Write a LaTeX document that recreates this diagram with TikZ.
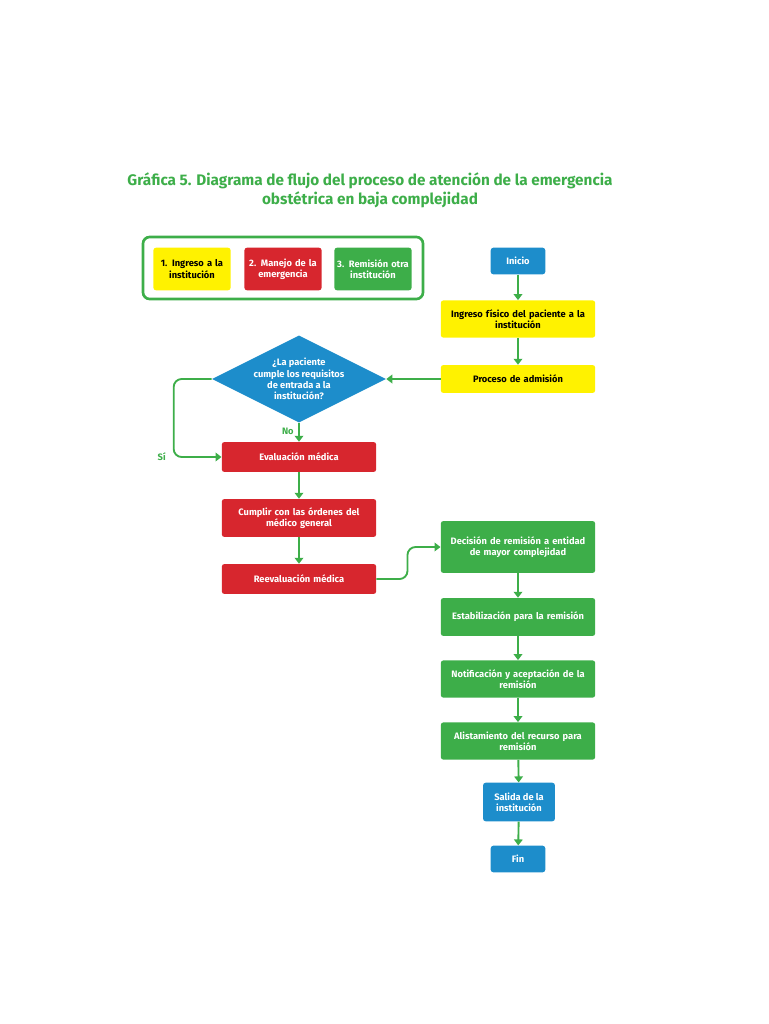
\documentclass[tikz,border=0pt]{standalone}
\usepackage{fontspec}
\setmainfont{Fira Sans}
\usetikzlibrary{positioning,shapes.geometric,arrows.meta}
\definecolor{vrd}{HTML}{3DAE49}
\definecolor{rj}{HTML}{D7262E}
\definecolor{am}{HTML}{FFF200}
\definecolor{az}{HTML}{1D8DCB}
\tikzset{
  box/.style={rounded corners=2pt,minimum height=#1,align=center,font=\fontsize{7}{8.5}\selectfont\bfseries,inner sep=2pt},
  ama/.style={box=21pt,fill=am,text=black,text width=112pt},
  roj/.style={box=21pt,fill=rj,text=white,text width=112pt},
  ver/.style={box=28pt,fill=vrd,text=white,text width=112pt},
  azu/.style={box=20pt,fill=az,text=white},
  flecha/.style={vrd,line width=1.4pt,-{Triangle[length=4.5pt,width=6.5pt]}}
}
\begin{document}
\begin{tikzpicture}[x=0.0264cm,y=-0.0264cm]
\useasboundingbox (0,0) rectangle (768,1024);

% titulo
\node[vrd,font=\fontsize{11.5}{14}\selectfont\bfseries,align=center] at (370,190)
  {Gráfica 5. Diagrama de flujo del proceso de atención de la emergencia\\obstétrica en baja complejidad};

% leyenda
\draw[vrd,line width=2pt,rounded corners=5pt] (143,237) rectangle (423,299);
\node[box=32pt,fill=am,text width=54pt] (l1) at (192,269) {1. Ingreso a la\\institución};
\node[box=32pt,fill=rj,text=white,text width=54pt] (l2) at (283,269) {2. Manejo de la\\emergencia};
\node[box=32pt,fill=vrd,text=white,text width=54pt] (l3) at (373,269) {3. Remisión otra\\institución};

% flujo
\node[azu,minimum width=41pt] (inicio) at (518,261) {Inicio};
\node[ama,minimum height=28pt] (ingreso) at (518,319) {Ingreso físico del paciente a la\\institución};
\node[ama] (admision) at (518,379) {Proceso de admisión};
\node[diamond,fill=az,text=white,align=center,font=\fontsize{7}{8.5}\selectfont\bfseries,
  minimum width=120pt,minimum height=60pt,inner sep=0pt,aspect=2] (requisitos) at (299,379)
  {¿La paciente\\cumple los requisitos\\de entrada a la\\institución?};
\node[roj,minimum height=22.5pt] (evaluacion) at (299,457) {Evaluación médica};
\node[roj,minimum height=28.5pt] (cumplir) at (299,518) {Cumplir con las órdenes del\\médico general};
\node[roj,minimum height=22.5pt] (reevaluacion) at (299,579) {Reevaluación médica};
\node[ver,minimum height=39pt] (decision) at (518,547) {Decisión de remisión a entidad\\de mayor complejidad};
\node[ver,minimum height=28.5pt] (estabilizacion) at (518,617) {Estabilización para la remisión};
\node[ver] (notificacion) at (518,679) {Notificación y aceptación de la\\remisión};
\node[ver] (alistamiento) at (518,741) {Alistamiento del recurso para\\remisión};
\node[azu,minimum height=29pt,minimum width=54pt] (salida) at (519,802) {Salida de la\\institución};
\node[azu,minimum width=41pt] (fin) at (518,859) {Fin};

% conectores
\draw[flecha] (inicio) -- (ingreso);
\draw[flecha] (ingreso) -- (admision);
\draw[flecha] (admision) -- (requisitos);
\draw[flecha,rounded corners=6pt] (requisitos.west) -- ++(-38,0) |- (evaluacion.west)
  node[pos=0.5,left=2pt,vrd,font=\fontsize{7}{8.5}\selectfont\bfseries] {Sí};
\draw[flecha] (requisitos) -- (evaluacion) node[pos=0.45,left,vrd,font=\fontsize{7}{8.5}\selectfont\bfseries] {No};
\draw[flecha] (evaluacion) -- (cumplir);
\draw[flecha] (cumplir) -- (reevaluacion);
\draw[flecha,rounded corners=6pt] (reevaluacion.east) -- ++(31,0) |- (decision.west);
\draw[flecha] (decision) -- (estabilizacion);
\draw[flecha] (estabilizacion) -- (notificacion);
\draw[flecha] (notificacion) -- (alistamiento);
\draw[flecha] (alistamiento) -- (salida);
\draw[flecha] (salida) -- (fin);
\end{tikzpicture}
\end{document}
